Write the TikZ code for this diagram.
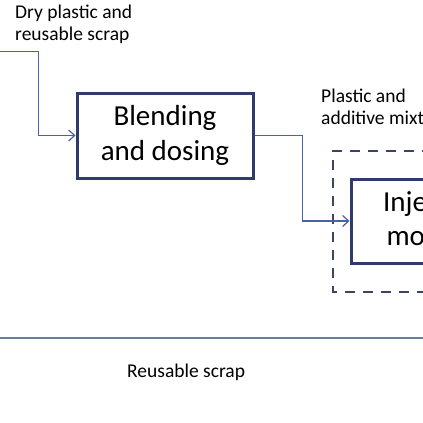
\documentclass[tikz,border=0pt]{standalone}
\usepackage{fontspec}
\setmainfont{Carlito}
\usetikzlibrary{arrows.meta}
\definecolor{boxnavy}{HTML}{2F3B6B}
\definecolor{connblue}{HTML}{4A62A8}
\definecolor{dashgray}{HTML}{3A4463}
\definecolor{rulegray}{HTML}{6A7DA0}
\tikzset{
  procbox/.style={draw=boxnavy, line width=3pt, fill=white, inner sep=0pt,
    align=center, font=\fontsize{29}{34.5}\selectfont},
  conn/.style={draw=connblue, line width=1.2pt,
    -{Straight Barb[length=6pt,width=11pt,line width=1.2pt]}},
  lbl/.style={inner sep=0pt, anchor=base west, align=left,
    font=\fontsize{19.5}{22}\selectfont},
  grpbox/.style={draw=dashgray, line width=2.6pt, dash pattern=on 10pt off 8pt},
}
\begin{document}
\begin{tikzpicture}[x=1pt,y=-1pt]
\clip (0,0) rectangle (423,423);
\fill[white] (0,0) rectangle (423,423);
% group box
\draw[grpbox] (540,151) -- (333,151) -- (333,292) -- (540,292);
% process boxes
\node[procbox, minimum width=176pt, minimum height=85pt] (blend) at (165,135.5) {Blending\\and dosing};
\node[procbox, minimum width=167pt, minimum height=84pt] (inject) at (434.5,221) {Injection\\molding};
% labels (base anchor = last line's baseline)
\node[lbl] (dry) at (15,40.5) {Dry plastic and\\reusable scrap};
\node[lbl] (mix) at (321,124.5) {Plastic and\\additive mixture};
\node[lbl] (reuse) at (127,377) {Reusable scrap};
% connectors
\coordinate (in1) at (0,51.5);
\draw[conn] (in1) -- (38.3,51.5) |- (blend.west);
\draw[conn] (blend.east) -- (302.5,135.5) |- (inject.west);
% rule
\coordinate (ruleL) at (0,338);
\coordinate (ruleR) at (423,338);
\draw[rulegray, line width=1.5pt] (ruleL) -- (ruleR);
\end{tikzpicture}
\end{document}
